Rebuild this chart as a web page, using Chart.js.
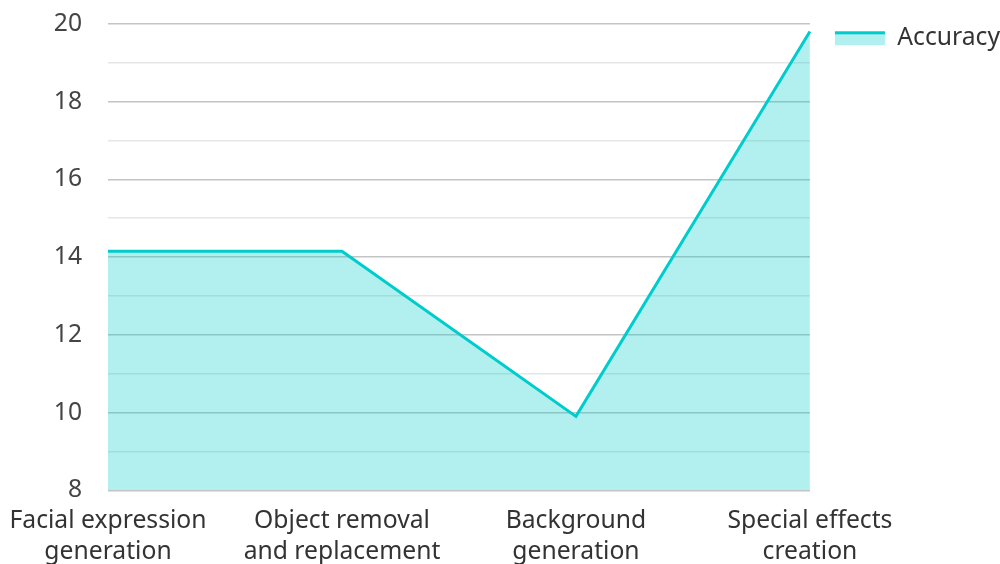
<!DOCTYPE html>
<html>
<head>
<meta charset="utf-8">
<script src="https://cdn.jsdelivr.net/npm/chart.js@4"></script>
<style>
  html, body { margin: 0; padding: 0; overflow: hidden; background: #fff; width: 1000px; height: 564px; }
  #wrap { width: 1010px; height: 591px; position: relative; margin-top: -17px; }
</style>
</head>
<body>
<div id="wrap"><canvas id="chart"></canvas></div>
<script>
const categories = [
  ["Facial expression", "generation"],
  ["Object removal", "and replacement"],
  ["Background", "generation"],
  ["Special effects", "creation"]
];
const accuracy = [14.15, 14.15, 9.9, 19.8];
const yTicks = [8, 10, 12, 14, 16, 18, 20];

const lineColor = "#00cccc";
const fillColor = "rgba(0, 204, 204, 0.3)";
const fontSize = 24.7;

// draws the thick top stroke on the legend swatch
const legendLine = {
  id: "legendLine",
  afterDraw(chart) {
    const legend = chart.legend;
    if (!legend || !legend.legendHitBoxes) return;
    const ctx = chart.ctx;
    legend.legendHitBoxes.forEach(box => {
      const bw = legend.options.labels.boxWidth;
      const bh = legend.options.labels.boxHeight;
      const top = box.top + (box.height - bh) / 2;
      ctx.save();
      ctx.fillStyle = lineColor;
      ctx.fillRect(box.left, top, bw, 3);
      ctx.restore();
    });
  }
};

new Chart(document.getElementById("chart"), {
  type: "line",
  data: {
    labels: categories,
    datasets: [{
      label: "Accuracy",
      data: accuracy,
      borderColor: lineColor,
      backgroundColor: fillColor,
      borderWidth: 3,
      fill: "start",
      pointRadius: 0,
      tension: 0
    }]
  },
  options: {
    responsive: true,
    maintainAspectRatio: false,
    animation: false,
    layout: { padding: { top: 0, right: 0, left: 13, bottom: 0 } },
    plugins: {
      legend: {
        position: "right",
        align: "start",
        title: { display: true, text: "", font: { size: 10 }, padding: 3 },
        labels: {
          boxWidth: 50,
          boxHeight: 14,
          padding: 25,
          color: "#333",
          font: { family: "Noto Sans", size: fontSize },
          generateLabels(chart) {
            const ds = chart.data.datasets[0];
            return [{
              text: ds.label,
              fillStyle: fillColor,
              strokeStyle: "rgba(0,0,0,0)",
              fontColor: "#333",
              lineWidth: 0,
              datasetIndex: 0
            }];
          }
        }
      },
      tooltip: { enabled: false }
    },
    scales: {
      x: {
        offset: false,
        grid: { display: false },
        border: { display: false },
        ticks: {
          color: "#333",
          font: { family: "Noto Sans", size: fontSize, lineHeight: 1.25 },
          maxRotation: 0,
          autoSkip: false,
          padding: 7
        }
      },
      y: {
        min: yTicks[0],
        max: yTicks[yTicks.length - 1],
        border: { display: false },
        afterFit: scale => { scale.width = 95; },
        grid: {
          drawTicks: false,
          color: ctx => (ctx.tick && yTicks.includes(ctx.tick.value)) ? "#c4c4c4" : "#e6e6e6",
          lineWidth: 1.5
        },
        ticks: {
          stepSize: 1,
          padding: 26,
          color: "#444",
          font: { family: "Noto Sans", size: fontSize },
          callback: v => yTicks.includes(v) ? v : ""
        }
      }
    }
  },
  plugins: [legendLine]
});
</script>
</body>
</html>
